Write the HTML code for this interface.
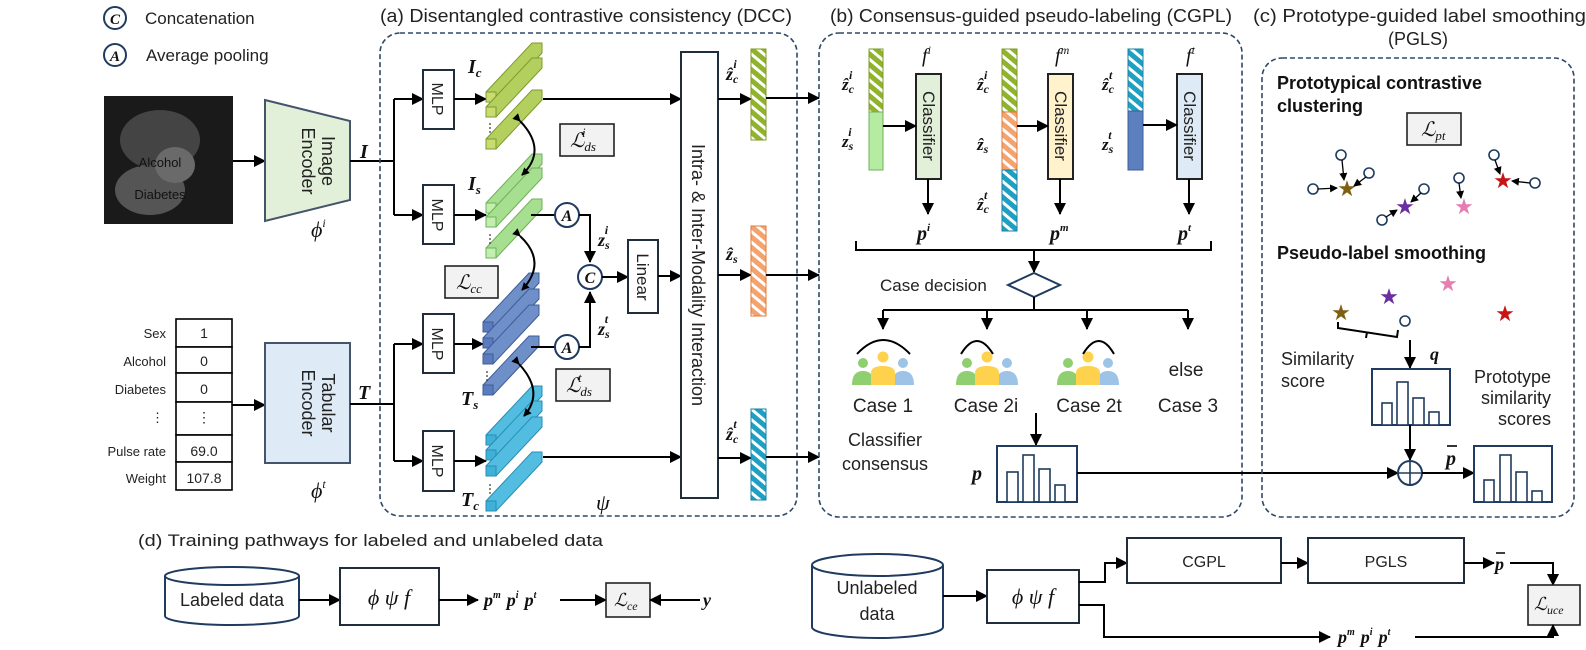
<!DOCTYPE html>
<html><head><meta charset="utf-8"><style>
html,body{margin:0;padding:0;background:#fff}
svg{display:block}
.t{font-family:"Liberation Sans Narrow","Liberation Sans",sans-serif;fill:#222}
.m{font-family:"Liberation Serif",serif;font-style:italic;font-weight:bold;fill:#111}
.mi{font-family:"Liberation Serif",serif;font-style:italic;fill:#111}
.bx{fill:#fff;stroke:#1f2d3d;stroke-width:2}
.ln{stroke:#000;stroke-width:2;fill:none}
.dash{fill:none;stroke:#2e4868;stroke-width:1.6;stroke-dasharray:5 3}
</style></head><body>
<svg width="1586" height="650" viewBox="0 0 1586 650" xmlns="http://www.w3.org/2000/svg">
<defs>
<marker id="ar" markerWidth="8" markerHeight="8" refX="7" refY="4" orient="auto" markerUnits="userSpaceOnUse"><path d="M0,0 L8,4 L0,8 z" fill="#000"/></marker>
<marker id="ar2" markerWidth="12" markerHeight="12" refX="11" refY="6" orient="auto-start-reverse" markerUnits="userSpaceOnUse"><path d="M0,0 L12,6 L0,12 z" fill="#000"/></marker>
<pattern id="pg" width="8" height="8" patternUnits="userSpaceOnUse" patternTransform="rotate(-50)"><rect width="8" height="8" fill="#8fb32a"/><rect width="3" height="8" fill="#fff"/></pattern>
<pattern id="po" width="8" height="8" patternUnits="userSpaceOnUse" patternTransform="rotate(-50)"><rect width="8" height="8" fill="#f4a26e"/><rect width="3" height="8" fill="#fff"/></pattern>
<pattern id="pc" width="8" height="8" patternUnits="userSpaceOnUse" patternTransform="rotate(-50)"><rect width="8" height="8" fill="#1fa0c3"/><rect width="3" height="8" fill="#fff"/></pattern>
<g id="bg"><polygon points="0,0 0,-10 46,-59 56,-59 56,-49 10,0" fill="#b3cf5e" stroke="#7f9a2e" stroke-width="1"/><rect x="0" y="-10" width="10" height="10" fill="#c9dc72" stroke="#7f9a2e"/></g>
<g id="bl"><polygon points="0,0 0,-10 46,-59 56,-59 56,-49 10,0" fill="#a6df8f" stroke="#6fb05a" stroke-width="1"/><rect x="0" y="-10" width="10" height="10" fill="#c2efaf" stroke="#6fb05a"/></g>
<g id="bd"><polygon points="0,0 0,-10 46,-59 56,-59 56,-49 10,0" fill="#6f8fc9" stroke="#3d5c98" stroke-width="1"/><rect x="0" y="-10" width="10" height="10" fill="#5a7bbd" stroke="#3d5c98"/></g>
<g id="bc"><polygon points="0,0 0,-10 46,-59 56,-59 56,-49 10,0" fill="#52bde0" stroke="#2a8db3" stroke-width="1"/><rect x="0" y="-10" width="10" height="10" fill="#3fb1d8" stroke="#2a8db3"/></g>
<g id="ppl">
<circle cx="-20" cy="-22" r="5" fill="#8fcf70"/><path d="M-31,0 Q-31,-14 -20,-14 Q-9,-14 -9,0 z" fill="#8fcf70"/>
<circle cx="20" cy="-22" r="5" fill="#9dc3e6"/><path d="M9,0 Q9,-14 20,-14 Q31,-14 31,0 z" fill="#9dc3e6"/>
<circle cx="0" cy="-28" r="5.5" fill="#ffd24d"/><path d="M-12,0 L-12,-12 Q-12,-19 0,-19 Q12,-19 12,-12 L12,0 z" fill="#ffd24d"/>
</g>
</defs>

<!-- legend -->
<circle cx="115" cy="18" r="11" fill="#fff" stroke="#1f3b5f" stroke-width="2"/><text x="115" y="24" class="m" font-size="15" text-anchor="middle">C</text>
<text x="145" y="24" class="t" font-size="17">Concatenation</text>
<circle cx="115" cy="55" r="11" fill="#fff" stroke="#1f3b5f" stroke-width="2"/><text x="115" y="61" class="m" font-size="15" text-anchor="middle">A</text>
<text x="146" y="61" class="t" font-size="17">Average pooling</text>

<!-- image -->
<rect x="104" y="96" width="129" height="128" fill="#1a1a1a"/>
<ellipse cx="160" cy="140" rx="40" ry="30" fill="#444"/><ellipse cx="150" cy="190" rx="35" ry="25" fill="#555"/><ellipse cx="175" cy="165" rx="20" ry="18" fill="#6a6a6a"/>
<text x="160" y="167" class="t" font-size="13" text-anchor="middle" style="fill:#111">Alcohol</text>
<text x="160" y="199" class="t" font-size="13" text-anchor="middle" style="fill:#111">Diabetes</text>
<line x1="233" y1="161" x2="265" y2="161" class="ln" marker-end="url(#ar2)"/>
<polygon points="265,100 350,121 350,200 265,221" fill="#e2efd9" stroke="#44546a" stroke-width="2"/>
<text transform="translate(322,161) rotate(90)" class="t" font-size="18" text-anchor="middle">Image</text>
<text transform="translate(302,161) rotate(90)" class="t" font-size="18" text-anchor="middle">Encoder</text>
<text x="311" y="237" class="mi" font-size="22">ϕ<tspan font-size="12" dy="-10">i</tspan></text>

<!-- table -->
<g class="t" font-size="13" text-anchor="end">
<text x="166" y="338">Sex</text><text x="166" y="366">Alcohol</text><text x="166" y="394">Diabetes</text><text x="164" y="422">⋮</text><text x="166" y="456">Pulse rate</text><text x="166" y="483">Weight</text></g>
<g fill="#fff" stroke="#000" stroke-width="1.6"><rect x="176" y="319" width="56" height="28"/><rect x="176" y="347" width="56" height="26"/><rect x="176" y="373" width="56" height="29"/><rect x="176" y="402" width="56" height="33"/><rect x="176" y="435" width="56" height="27"/><rect x="176" y="462" width="56" height="28"/></g>
<g class="t" font-size="14" text-anchor="middle"><text x="204" y="338">1</text><text x="204" y="366">0</text><text x="204" y="394">0</text><text x="204" y="422">⋮</text><text x="204" y="456">69.0</text><text x="204" y="483">107.8</text></g>
<line x1="232" y1="405" x2="265" y2="405" class="ln" marker-end="url(#ar2)"/>
<rect x="265" y="343" width="85" height="120" fill="#deebf7" stroke="#44546a" stroke-width="2"/>
<text transform="translate(322,403) rotate(90)" class="t" font-size="18" text-anchor="middle">Tabular</text>
<text transform="translate(302,403) rotate(90)" class="t" font-size="18" text-anchor="middle">Encoder</text>
<text x="311" y="498" class="mi" font-size="22">ϕ<tspan font-size="12" dy="-10">t</tspan></text>

<!-- I / T branching -->
<text x="360" y="158" class="m" font-size="20">I</text>
<text x="358" y="399" class="m" font-size="20">T</text>
<path d="M350,161 H394 M394,99 V215 M350,404 H394 M394,344 V461" class="ln"/>
<line x1="394" y1="99" x2="423" y2="99" class="ln" marker-end="url(#ar2)"/>
<line x1="394" y1="215" x2="423" y2="215" class="ln" marker-end="url(#ar2)"/>
<line x1="394" y1="344" x2="423" y2="344" class="ln" marker-end="url(#ar2)"/>
<line x1="394" y1="461" x2="423" y2="461" class="ln" marker-end="url(#ar2)"/>

<!-- DCC -->
<text x="380" y="22" class="t" font-size="18" textLength="412" lengthAdjust="spacingAndGlyphs">(a) Disentangled contrastive consistency (DCC)</text>
<rect x="380" y="33" width="417" height="483" rx="20" class="dash"/>
<g>
<rect x="423" y="70" width="31" height="59" class="bx"/><text transform="translate(432,99) rotate(90)" class="t" font-size="16" text-anchor="middle">MLP</text>
<rect x="423" y="185" width="31" height="59" class="bx"/><text transform="translate(432,215) rotate(90)" class="t" font-size="16" text-anchor="middle">MLP</text>
<rect x="423" y="314" width="31" height="59" class="bx"/><text transform="translate(432,344) rotate(90)" class="t" font-size="16" text-anchor="middle">MLP</text>
<rect x="423" y="431" width="31" height="60" class="bx"/><text transform="translate(432,461) rotate(90)" class="t" font-size="16" text-anchor="middle">MLP</text>
</g>
<line x1="454" y1="99" x2="486" y2="99" class="ln" marker-end="url(#ar2)"/>
<line x1="454" y1="215" x2="486" y2="215" class="ln" marker-end="url(#ar2)"/>
<line x1="454" y1="344" x2="483" y2="344" class="ln" marker-end="url(#ar2)"/>
<line x1="454" y1="461" x2="486" y2="461" class="ln" marker-end="url(#ar2)"/>
<use href="#bg" x="486" y="102"/><use href="#bg" x="486" y="117"/><use href="#bg" x="486" y="149"/>
<use href="#bl" x="486" y="213"/><use href="#bl" x="486" y="227"/><use href="#bl" x="486" y="258"/>
<use href="#bd" x="483" y="332"/><use href="#bd" x="483" y="348"/><use href="#bd" x="483" y="364"/><use href="#bd" x="483" y="395"/>
<use href="#bc" x="486" y="445"/><use href="#bc" x="486" y="460"/><use href="#bc" x="486" y="476"/><use href="#bc" x="486" y="511"/>
<g fill="#333"><circle cx="490" cy="124" r="0.9"/><circle cx="490" cy="128" r="0.9"/><circle cx="490" cy="132" r="0.9"/><circle cx="490" cy="235" r="0.9"/><circle cx="490" cy="239" r="0.9"/><circle cx="490" cy="243" r="0.9"/><circle cx="487" cy="372" r="0.9"/><circle cx="487" cy="376" r="0.9"/><circle cx="487" cy="380" r="0.9"/><circle cx="490" cy="485" r="0.9"/><circle cx="490" cy="489" r="0.9"/><circle cx="490" cy="493" r="0.9"/></g>
<text x="468" y="73" class="m" font-size="20">I<tspan font-size="13" dy="4">c</tspan></text>
<text x="468" y="190" class="m" font-size="20">I<tspan font-size="13" dy="4">s</tspan></text>
<text x="461" y="405" class="m" font-size="20">T<tspan font-size="13" dy="4">s</tspan></text>
<text x="461" y="506" class="m" font-size="20">T<tspan font-size="13" dy="4">c</tspan></text>
<path d="M520,121 Q548,150 522,175" class="ln" stroke-width="1.6" marker-start="url(#ar)" marker-end="url(#ar)"/>
<path d="M520,236 Q548,262 522,290" class="ln" stroke-width="1.6" marker-start="url(#ar)" marker-end="url(#ar)"/>
<path d="M519,364 Q545,392 524,416" class="ln" stroke-width="1.6" marker-start="url(#ar)" marker-end="url(#ar)"/>
<rect x="560" y="124" width="54" height="32" fill="#f2f2f2" stroke="#222" stroke-width="1.6"/><text x="570" y="147" class="mi" font-size="20">ℒ<tspan font-size="13" dy="4">ds</tspan><tspan font-size="13" dx="-14" dy="-14">i</tspan></text>
<rect x="445" y="266" width="53" height="32" fill="#f2f2f2" stroke="#222" stroke-width="1.6"/><text x="456" y="289" class="mi" font-size="20">ℒ<tspan font-size="13" dy="4">cc</tspan></text>
<rect x="556" y="369" width="54" height="32" fill="#f2f2f2" stroke="#222" stroke-width="1.6"/><text x="566" y="392" class="mi" font-size="20">ℒ<tspan font-size="13" dy="4">ds</tspan><tspan font-size="13" dx="-14" dy="-14">t</tspan></text>
<path d="M531,215 H555 M531,347 H555" class="ln"/>
<circle cx="567" cy="215" r="12" fill="#fff" stroke="#1f3b5f" stroke-width="2"/><text x="567" y="221" class="m" font-size="16" text-anchor="middle">A</text>
<circle cx="567" cy="347" r="12" fill="#fff" stroke="#1f3b5f" stroke-width="2"/><text x="567" y="353" class="m" font-size="16" text-anchor="middle">A</text>
<path d="M579,215 H590 V262" class="ln" marker-end="url(#ar2)"/>
<path d="M579,347 H590 V292" class="ln" marker-end="url(#ar2)"/>
<circle cx="590" cy="277" r="12" fill="#fff" stroke="#1f3b5f" stroke-width="2"/><text x="590" y="283" class="m" font-size="16" text-anchor="middle">C</text>
<text x="598" y="246" class="mi" font-size="18" font-weight="bold">z<tspan font-size="12" dy="3">s</tspan><tspan font-size="12" dx="-5" dy="-15">i</tspan></text>
<text x="598" y="335" class="mi" font-size="18" font-weight="bold">z<tspan font-size="12" dy="3">s</tspan><tspan font-size="12" dx="-5" dy="-15">t</tspan></text>
<line x1="602" y1="277" x2="628" y2="277" class="ln" marker-end="url(#ar2)"/>
<rect x="628" y="240" width="30" height="73" class="bx"/><text transform="translate(637,277) rotate(90)" class="t" font-size="17" text-anchor="middle">Linear</text>
<line x1="658" y1="276" x2="681" y2="276" class="ln" marker-end="url(#ar2)"/>
<line x1="543" y1="99" x2="681" y2="99" class="ln" marker-end="url(#ar2)"/>
<line x1="543" y1="457" x2="681" y2="457" class="ln" marker-end="url(#ar2)"/>
<rect x="681" y="52" width="37" height="446" class="bx"/>
<text transform="translate(692,275) rotate(90)" class="t" font-size="18" text-anchor="middle">Intra- &amp; Inter-Modality Interaction</text>
<line x1="718" y1="99" x2="751" y2="99" class="ln" marker-end="url(#ar2)"/>
<line x1="718" y1="275" x2="751" y2="275" class="ln" marker-end="url(#ar2)"/>
<line x1="718" y1="458" x2="751" y2="458" class="ln" marker-end="url(#ar2)"/>
<rect x="751" y="49" width="15" height="91" fill="url(#pg)" stroke="#7f9a2e"/>
<rect x="751" y="226" width="15" height="90" fill="url(#po)" stroke="#e07a3a"/>
<rect x="751" y="409" width="15" height="91" fill="url(#pc)" stroke="#1a7fa3"/>
<text x="726" y="80" class="mi" font-size="18" font-weight="bold">ẑ<tspan font-size="12" dy="3">c</tspan><tspan font-size="12" dx="-5" dy="-15">i</tspan></text>
<text x="726" y="260" class="mi" font-size="18" font-weight="bold">ẑ<tspan font-size="12" dy="3">s</tspan></text>
<text x="726" y="440" class="mi" font-size="18" font-weight="bold">ẑ<tspan font-size="12" dy="3">c</tspan><tspan font-size="12" dx="-5" dy="-15">t</tspan></text>
<line x1="766" y1="98" x2="819" y2="98" class="ln" marker-end="url(#ar2)"/>
<line x1="766" y1="275" x2="819" y2="275" class="ln" marker-end="url(#ar2)"/>
<line x1="766" y1="457" x2="819" y2="457" class="ln" marker-end="url(#ar2)"/>
<text x="596" y="510" class="mi" font-size="22">ψ</text>

<!-- CGPL -->
<text x="830" y="22" class="t" font-size="18" textLength="402" lengthAdjust="spacingAndGlyphs">(b) Consensus-guided pseudo-labeling (CGPL)</text>
<rect x="819" y="33" width="423" height="484" rx="20" class="dash"/>
<rect x="869" y="49" width="14" height="63" fill="url(#pg)" stroke="#7f9a2e"/><rect x="869" y="112" width="14" height="58" fill="#b6eba2" stroke="#6fb05a"/>
<rect x="1002" y="49" width="15" height="63" fill="url(#pg)" stroke="#7f9a2e"/><rect x="1002" y="112" width="15" height="58" fill="url(#po)" stroke="#e07a3a"/><rect x="1002" y="170" width="15" height="61" fill="url(#pc)" stroke="#1a7fa3"/>
<rect x="1128" y="49" width="15" height="62" fill="url(#pc)" stroke="#1a7fa3"/><rect x="1128" y="111" width="15" height="59" fill="#5c7fbf" stroke="#3d5c98"/>
<g class="mi" font-size="17" font-weight="bold">
<text x="842" y="90">ẑ<tspan font-size="12" dy="3">c</tspan><tspan font-size="12" dx="-5" dy="-14">i</tspan></text>
<text x="842" y="147">z<tspan font-size="12" dy="3">s</tspan><tspan font-size="12" dx="-5" dy="-14">i</tspan></text>
<text x="977" y="90">ẑ<tspan font-size="12" dy="3">c</tspan><tspan font-size="12" dx="-5" dy="-14">i</tspan></text>
<text x="977" y="150">ẑ<tspan font-size="12" dy="3">s</tspan></text>
<text x="977" y="210">ẑ<tspan font-size="12" dy="3">c</tspan><tspan font-size="12" dx="-5" dy="-14">t</tspan></text>
<text x="1102" y="90">ẑ<tspan font-size="12" dy="3">c</tspan><tspan font-size="12" dx="-5" dy="-14">t</tspan></text>
<text x="1102" y="150">z<tspan font-size="12" dy="3">s</tspan><tspan font-size="12" dx="-5" dy="-14">t</tspan></text>
</g>
<rect x="916" y="74" width="25" height="105" fill="#e2efd9" stroke="#222" stroke-width="2"/><text transform="translate(923,126) rotate(90)" class="t" font-size="17" text-anchor="middle">Classifier</text>
<rect x="1048" y="74" width="25" height="105" fill="#fff2cc" stroke="#222" stroke-width="2"/><text transform="translate(1055,126) rotate(90)" class="t" font-size="17" text-anchor="middle">Classifier</text>
<rect x="1177" y="74" width="25" height="105" fill="#deebf7" stroke="#222" stroke-width="2"/><text transform="translate(1184,126) rotate(90)" class="t" font-size="17" text-anchor="middle">Classifier</text>
<line x1="883" y1="126" x2="916" y2="126" class="ln" marker-end="url(#ar2)"/>
<line x1="1017" y1="126" x2="1048" y2="126" class="ln" marker-end="url(#ar2)"/>
<line x1="1143" y1="125" x2="1177" y2="125" class="ln" marker-end="url(#ar2)"/>
<line x1="928" y1="179" x2="928" y2="214" class="ln" marker-end="url(#ar2)"/>
<line x1="1060" y1="179" x2="1060" y2="214" class="ln" marker-end="url(#ar2)"/>
<line x1="1189" y1="179" x2="1189" y2="214" class="ln" marker-end="url(#ar2)"/>
<text x="922" y="62" class="mi" font-size="20">f<tspan font-size="12" dy="-8">i</tspan></text>
<text x="1055" y="62" class="mi" font-size="20">f<tspan font-size="12" dy="-8">m</tspan></text>
<text x="1186" y="62" class="mi" font-size="20">f<tspan font-size="12" dy="-8">t</tspan></text>
<text x="917" y="240" class="m" font-size="20">p<tspan font-size="11" dy="-9">i</tspan></text>
<text x="1050" y="240" class="m" font-size="20">p<tspan font-size="11" dy="-9">m</tspan></text>
<text x="1178" y="240" class="m" font-size="20">p<tspan font-size="11" dy="-9">t</tspan></text>
<path d="M856,241 V250 H1211 V241" class="ln"/>
<line x1="1034" y1="250" x2="1034" y2="272" class="ln" marker-end="url(#ar2)"/>
<polygon points="1034,273 1060,285 1034,297 1008,285" fill="#fff" stroke="#1f3b5f" stroke-width="2"/>
<text x="880" y="291" class="t" font-size="17">Case decision</text>
<path d="M1034,297 V310 M883,310 H1188" class="ln"/>
<line x1="883" y1="310" x2="883" y2="329" class="ln" marker-end="url(#ar2)"/>
<line x1="987" y1="310" x2="987" y2="329" class="ln" marker-end="url(#ar2)"/>
<line x1="1087" y1="310" x2="1087" y2="329" class="ln" marker-end="url(#ar2)"/>
<line x1="1188" y1="310" x2="1188" y2="329" class="ln" marker-end="url(#ar2)"/>
<use href="#ppl" x="883" y="385"/><use href="#ppl" x="987" y="385"/><use href="#ppl" x="1088" y="385"/>
<path d="M857,354 Q883,326 910,354" class="ln" stroke-width="1.8"/>
<path d="M961,354 Q977,328 993,354" class="ln" stroke-width="1.8"/>
<path d="M1083,354 Q1099,328 1114,354" class="ln" stroke-width="1.8"/>
<text x="1186" y="376" class="t" font-size="19" text-anchor="middle">else</text>
<g class="t" font-size="19" text-anchor="middle"><text x="883" y="412">Case 1</text><text x="986" y="412">Case 2i</text><text x="1089" y="412">Case 2t</text><text x="1188" y="412">Case 3</text></g>
<text x="885" y="446" class="t" font-size="18" text-anchor="middle">Classifier</text>
<text x="885" y="470" class="t" font-size="18" text-anchor="middle">consensus</text>
<line x1="1036" y1="413" x2="1036" y2="445" class="ln" marker-end="url(#ar2)"/>
<rect x="997" y="446" width="80" height="56" fill="#fff" stroke="#1f3b5f" stroke-width="2"/>
<g fill="#fff" stroke="#1f3b5f" stroke-width="1.6"><rect x="1007" y="472" width="11" height="30"/><rect x="1023" y="455" width="11" height="47"/><rect x="1039" y="469" width="11" height="33"/><rect x="1055" y="485" width="10" height="17"/></g>
<text x="972" y="480" class="m" font-size="20">p</text>
<line x1="1077" y1="473" x2="1398" y2="473" class="ln" marker-end="url(#ar2)"/>

<!-- PGLS -->
<text x="1253" y="22" class="t" font-size="18" textLength="333" lengthAdjust="spacingAndGlyphs">(c) Prototype-guided label smoothing</text>
<text x="1418" y="45" class="t" font-size="18" text-anchor="middle">(PGLS)</text>
<rect x="1262" y="58" width="312" height="459" rx="20" class="dash"/>
<text x="1277" y="89" class="t" font-size="18" font-weight="bold" style="fill:#111">Prototypical contrastive</text>
<text x="1277" y="112" class="t" font-size="18" font-weight="bold" style="fill:#111">clustering</text>
<rect x="1407" y="113" width="54" height="32" fill="#f2f2f2" stroke="#222" stroke-width="1.6"/><text x="1421" y="136" class="mi" font-size="20">ℒ<tspan font-size="13" dy="4">pt</tspan></text>
<g font-family="DejaVu Sans,sans-serif" font-size="22" text-anchor="middle">
<text x="1347" y="196" fill="#7f5f10">★</text><text x="1405" y="214" fill="#6a2ea0">★</text><text x="1464" y="214" fill="#e47fb0">★</text><text x="1503" y="188" fill="#c81414">★</text>
<text x="1341" y="320" fill="#7f5f10">★</text><text x="1389" y="304" fill="#6a2ea0">★</text><text x="1448" y="291" fill="#e47fb0">★</text><text x="1505" y="321" fill="#c81414">★</text>
</g>
<g fill="#fff" stroke="#1f3b5f" stroke-width="1.6">
<circle cx="1341" cy="155" r="5"/><circle cx="1369" cy="173" r="5"/><circle cx="1313" cy="189" r="5"/><circle cx="1424" cy="189" r="5"/><circle cx="1382" cy="220" r="5"/><circle cx="1459" cy="178" r="5"/><circle cx="1494" cy="155" r="5"/><circle cx="1535" cy="183" r="5"/><circle cx="1405" cy="321" r="5"/>
</g>
<g stroke="#000" stroke-width="1.3" fill="none">
<line x1="1342" y1="160" x2="1344" y2="180" marker-end="url(#ar)"/><line x1="1366" y1="177" x2="1354" y2="186" marker-end="url(#ar)"/><line x1="1318" y1="189" x2="1337" y2="188" marker-end="url(#ar)"/>
<line x1="1421" y1="193" x2="1411" y2="202" marker-end="url(#ar)"/><line x1="1386" y1="217" x2="1397" y2="210" marker-end="url(#ar)"/>
<line x1="1459" y1="183" x2="1461" y2="198" marker-end="url(#ar)"/>
<line x1="1495" y1="160" x2="1500" y2="174" marker-end="url(#ar)"/><line x1="1530" y1="183" x2="1512" y2="181" marker-end="url(#ar)"/>
</g>
<text x="1277" y="259" class="t" font-size="18" font-weight="bold" style="fill:#111">Pseudo-label smoothing</text>
<path d="M1338,322 V328 L1397,337 L1398,330 M1367,332 L1366,338" class="ln" stroke-width="1.6"/>
<text x="1281" y="365" class="t" font-size="18">Similarity</text>
<text x="1281" y="387" class="t" font-size="18">score</text>
<line x1="1410" y1="340" x2="1410" y2="368" class="ln" marker-end="url(#ar2)"/>
<text x="1430" y="360" class="m" font-size="18">q</text>
<rect x="1372" y="369" width="78" height="56" fill="#fff" stroke="#1f3b5f" stroke-width="2"/>
<g fill="#fff" stroke="#1f3b5f" stroke-width="1.6"><rect x="1382" y="403" width="10" height="22"/><rect x="1397" y="382" width="11" height="43"/><rect x="1413" y="398" width="11" height="27"/><rect x="1429" y="412" width="10" height="13"/></g>
<text x="1551" y="383" class="t" font-size="18" text-anchor="end">Prototype</text>
<text x="1551" y="404" class="t" font-size="18" text-anchor="end">similarity</text>
<text x="1551" y="425" class="t" font-size="18" text-anchor="end">scores</text>
<line x1="1410" y1="425" x2="1410" y2="460" class="ln" marker-end="url(#ar2)"/>
<circle cx="1410" cy="473" r="12" fill="#fff" stroke="#1f3b5f" stroke-width="2"/><path d="M1398,473 H1422 M1410,461 V485" stroke="#1f3b5f" stroke-width="1.6"/>
<line x1="1422" y1="473" x2="1474" y2="473" class="ln" marker-end="url(#ar2)"/>
<text x="1446" y="465" class="m" font-size="20">p</text><line x1="1447" y1="446" x2="1457" y2="446" stroke="#000" stroke-width="1.6"/>
<rect x="1474" y="446" width="78" height="56" fill="#fff" stroke="#1f3b5f" stroke-width="2"/>
<g fill="#fff" stroke="#1f3b5f" stroke-width="1.6"><rect x="1484" y="480" width="10" height="22"/><rect x="1500" y="455" width="11" height="47"/><rect x="1516" y="472" width="11" height="30"/><rect x="1532" y="491" width="10" height="11"/></g>

<!-- (d) -->
<text x="138" y="546" class="t" font-size="17" textLength="465" lengthAdjust="spacingAndGlyphs">(d) Training pathways for labeled and unlabeled data</text>
<path d="M165,576 V616 A67,9 0 0 0 299,616 V576" fill="#fff" stroke="#1f3b5f" stroke-width="2"/>
<ellipse cx="232" cy="576" rx="67" ry="9" fill="#fff" stroke="#1f3b5f" stroke-width="2"/>
<text x="232" y="606" class="t" font-size="18" text-anchor="middle">Labeled data</text>
<line x1="299" y1="600" x2="340" y2="600" class="ln" marker-end="url(#ar2)"/>
<rect x="340" y="568" width="99" height="57" class="bx"/><text x="389" y="605" class="mi" font-size="22" text-anchor="middle">ϕ ψ f</text>
<line x1="439" y1="600" x2="478" y2="600" class="ln" marker-end="url(#ar2)"/>
<text x="484" y="606" class="m" font-size="18">p<tspan font-size="10" dy="-8">m</tspan><tspan dy="8" dx="6">p</tspan><tspan font-size="10" dy="-8">i</tspan><tspan dy="8" dx="6">p</tspan><tspan font-size="10" dy="-8">t</tspan></text>
<line x1="560" y1="600" x2="606" y2="600" class="ln" marker-end="url(#ar2)"/>
<rect x="606" y="583" width="44" height="34" fill="#f2f2f2" stroke="#222" stroke-width="1.6"/><text x="614" y="606" class="mi" font-size="18">ℒ<tspan font-size="12" dy="4">ce</tspan></text>
<line x1="700" y1="600" x2="650" y2="600" class="ln" marker-end="url(#ar2)"/>
<text x="703" y="606" class="m" font-size="18">y</text>

<path d="M812,565 V627 A65.5,11 0 0 0 943,627 V565" fill="#fff" stroke="#1f3b5f" stroke-width="2"/>
<ellipse cx="877.5" cy="565" rx="65.5" ry="11" fill="#fff" stroke="#1f3b5f" stroke-width="2"/>
<text x="877" y="594" class="t" font-size="18" text-anchor="middle">Unlabeled</text>
<text x="877" y="620" class="t" font-size="18" text-anchor="middle">data</text>
<line x1="943" y1="596" x2="987" y2="596" class="ln" marker-end="url(#ar2)"/>
<rect x="987" y="570" width="92" height="53" class="bx"/><text x="1033" y="604" class="mi" font-size="22" text-anchor="middle">ϕ ψ f</text>
<path d="M1079,582 H1105 V563 H1127" class="ln" marker-end="url(#ar2)"/>
<rect x="1127" y="538" width="154" height="45" class="bx"/><text x="1204" y="567" class="t" font-size="16" text-anchor="middle">CGPL</text>
<line x1="1281" y1="563" x2="1308" y2="563" class="ln" marker-end="url(#ar2)"/>
<rect x="1308" y="538" width="156" height="45" class="bx"/><text x="1386" y="567" class="t" font-size="16" text-anchor="middle">PGLS</text>
<line x1="1464" y1="563" x2="1494" y2="563" class="ln" marker-end="url(#ar2)"/>
<text x="1495" y="570" class="m" font-size="18">p</text><line x1="1496" y1="553" x2="1505" y2="553" stroke="#000" stroke-width="1.5"/>
<path d="M1510,563 H1553 V585" class="ln" marker-end="url(#ar2)"/>
<rect x="1528" y="585" width="52" height="40" fill="#f2f2f2" stroke="#222" stroke-width="1.6"/><text x="1534" y="610" class="mi" font-size="18">ℒ<tspan font-size="12" dy="4">uce</tspan></text>
<path d="M1079,605 H1104 V637 H1330" class="ln" marker-end="url(#ar2)"/>
<text x="1338" y="643" class="m" font-size="18">p<tspan font-size="10" dy="-8">m</tspan><tspan dy="8" dx="6">p</tspan><tspan font-size="10" dy="-8">i</tspan><tspan dy="8" dx="6">p</tspan><tspan font-size="10" dy="-8">t</tspan></text>
<path d="M1415,637 H1553 V625" class="ln" marker-end="url(#ar2)"/>
</svg>
</body></html>
